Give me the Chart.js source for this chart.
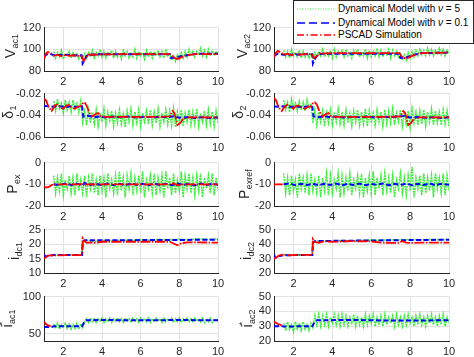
<!DOCTYPE html>
<html><head><meta charset="utf-8">
<script src="https://cdn.jsdelivr.net/npm/chart.js@4"></script>
<style>
body{margin:0;background:#fff;width:474px;height:357px;overflow:hidden;position:relative;font-family:"Liberation Sans",Arial,sans-serif}
canvas.c{position:absolute}
#legend{position:absolute;left:293px;top:0px;width:179px;height:42px;border:1px solid #262626;background:#fff;z-index:5;font-size:10px;color:#000}
#legend .it{position:absolute;left:0;height:12px;width:178px}
#legend svg{position:absolute;left:3px;top:0}
#legend span{position:absolute;left:44px;top:0;line-height:12px;white-space:nowrap}
</style>
</head><body>
<div id="legend">
 <div class="it" style="top:2px"><svg width="40" height="12"><line x1="0" y1="6" x2="38" y2="6" stroke="#28e628" stroke-width="1" stroke-dasharray="1,1.6"/></svg><span>Dynamical Model with <i>ν</i> = 5</span></div>
 <div class="it" style="top:15.5px"><svg width="40" height="12"><line x1="0" y1="6" x2="38" y2="6" stroke="#0000ff" stroke-width="1.6" stroke-dasharray="8,4"/></svg><span>Dynamical Model with <i>ν</i> = 0.1</span></div>
 <div class="it" style="top:28px"><svg width="40" height="12"><line x1="0" y1="6" x2="38" y2="6" stroke="#ff0000" stroke-width="1.4" stroke-dasharray="7,2.5,1.5,2.5"/></svg><span>PSCAD Simulation</span></div>
</div>
<script>
// ---------- data ----------
const xTicks = [2,4,6,8,10];
const xTickLabels = ['2','4','6','8','10'];

const tGreen = [1.5,1.6,1.7,1.8,1.9,2.0,2.1,2.2,2.3,2.4,2.5,2.6,2.7,2.8,2.9,3.0,3.1,3.2,3.3,3.4,3.5,3.6,3.7,3.8,3.9,4.0,4.1,4.2,4.3,4.4,4.5,4.6,4.7,4.8,4.9,5.0,5.1,5.2,5.3,5.4,5.5,5.6,5.7,5.8,5.9,6.0,6.1,6.2,6.3,6.4,6.5,6.6,6.7,6.8,6.9,7.0,7.1,7.2,7.3,7.4,7.5,7.6,7.7,7.8,7.9,8.0,8.1,8.2,8.3,8.4,8.5,8.6,8.7,8.8,8.9,9.0,9.1,9.2,9.3,9.4,9.5,9.6,9.7,9.8,9.9,10.0];

// V_ac1
const vac1Ticks = [80,100,120];
const vac1TickLabels = ['80','100','120'];
const vac1Green = [98,92,97,93,99,91,96,94,98,92, 97,93,96,91,95,90,96,92,97,93, 99,92,97,94,100,93,98,92,97,95, 99,92,98,93,97,91,99,94,98,92, 97,93,100,92,98,94,97,91,99,93, 98,92,97,94,99,93,98,92,100,94, 96,90,94,89,95,91,97,92,98,93, 100,94,99,93,98,95,101,94,99,93, 100,94,99,95,98,96];
const vac1Blue = [[1.0,93],[1.1,95],[1.3,96],[1.5,94.5],[2,95],[2.5,94.5],[2.95,94.5],[3.0,87],[3.1,90],[3.2,94],[3.4,95],[4,95.5],[5,95.5],[6,95.5],[7,95.5],[7.5,95.5],[7.55,92],[7.8,92.5],[8.2,94],[8.6,95],[9,96],[10,96]];
const vac1Red = [[1.0,91],[1.1,96],[1.2,97.5],[1.35,96.5],[1.5,94],[1.7,95],[1.9,93.5],[2.1,95],[2.3,94],[2.5,94.5],[2.7,94],[2.95,94],[3.05,89],[3.15,92],[3.3,95],[3.5,95],[4,95.3],[5,95.5],[6,95.5],[7,95.5],[7.5,95.5],[7.7,92.5],[7.9,91],[8.1,92.5],[8.4,94.5],[8.8,95.5],[10,95.5]];

// delta_1
const dTicks = [-0.06,-0.04,-0.02];
const dTickLabels = ['-0.06','-0.04','-0.02'];
const d1Green = [-0.027,-0.036,-0.025,-0.034,-0.029,-0.038,-0.026,-0.035,-0.028,-0.037, -0.026,-0.034,-0.029,-0.037,-0.027,-0.046,-0.036,-0.049,-0.035,-0.047, -0.037,-0.048,-0.035,-0.050,-0.038,-0.046,-0.034,-0.049,-0.037,-0.045, -0.036,-0.050,-0.038,-0.047,-0.035,-0.048,-0.039,-0.051,-0.036,-0.046, -0.034,-0.049,-0.037,-0.047,-0.035,-0.050,-0.038,-0.046,-0.036,-0.048, -0.035,-0.049,-0.037,-0.047,-0.034,-0.050,-0.038,-0.046,-0.035,-0.048, -0.036,-0.049,-0.034,-0.051,-0.037,-0.047,-0.035,-0.050,-0.038,-0.046, -0.035,-0.049,-0.037,-0.048,-0.034,-0.050,-0.038,-0.046,-0.036,-0.049, -0.035,-0.048,-0.037,-0.050,-0.036,-0.047];
const d1Blue = [[1.0,-0.0315],[1.3,-0.0318],[1.5,-0.0322],[1.8,-0.0316],[2.1,-0.0324],[2.4,-0.0317],[2.7,-0.0323],[2.97,-0.0318],[3.03,-0.0412],[3.3,-0.0405],[3.6,-0.0418],[3.9,-0.0410],[4.2,-0.0420],[4.6,-0.0412],[5.0,-0.0419],[5.4,-0.0411],[5.8,-0.0420],[6.2,-0.0413],[6.6,-0.0419],[7.0,-0.0412],[7.4,-0.0418],[7.7,-0.0408],[8.0,-0.0422],[8.4,-0.0417],[8.8,-0.0424],[9.2,-0.0418],[9.6,-0.0425],[10,-0.0420]];
const d1Red = [[1.0,-0.025],[1.1,-0.026],[1.25,-0.033],[1.4,-0.036],[1.55,-0.031],[1.7,-0.030],[1.85,-0.033],[2.0,-0.034],[2.15,-0.031],[2.3,-0.0305],[2.45,-0.033],[2.6,-0.034],[2.75,-0.032],[2.9,-0.0315],[3.0,-0.029],[3.1,-0.028],[3.2,-0.031],[3.35,-0.038],[3.5,-0.041],[3.65,-0.039],[3.8,-0.038],[3.95,-0.041],[4.2,-0.0415],[5,-0.0415],[6,-0.0415],[7,-0.0415],[7.5,-0.041],[7.65,-0.036],[7.75,-0.038],[7.9,-0.049],[8.05,-0.047],[8.2,-0.043],[8.5,-0.042],[10,-0.042]];

// P_ex
const pTicks = [-20,-10,0];
const pTickLabels = ['-20','-10','0'];
const pex1Green = [-6,-14,-7,-13,-5,-15,-8,-12,-6,-14, -7,-15,-5,-13,-8,-14,-6,-16,-7,-12, -5,-14,-8,-15,-6,-13,-7,-16,-5,-12, -8,-14,-6,-15,-4,-13,-7,-16,-6,-12, -5,-15,-7,-13,-6,-14,-4,-16,-8,-12, -6,-14,-5,-15,-7,-13,-6,-16,-4,-12, -7,-15,-5,-14,-8,-13,-4,-16,-6,-12, -5,-14,-7,-15,-6,-13,-5,-16,-7,-12, -6,-14,-5,-15,-7,-13];
const pex1Blue = [[1.5,-10],[1.8,-10.4],[2.1,-9.7],[2.4,-10.3],[2.7,-9.8],[3.0,-10.5],[3.1,-9.4],[3.4,-10.2],[3.7,-9.8],[4.0,-10.4],[4.3,-9.7],[4.6,-10.3],[4.9,-9.8],[5.2,-10.4],[5.5,-9.7],[5.8,-10.2],[6.1,-9.8],[6.4,-10.4],[6.7,-9.7],[7.0,-10.3],[7.3,-9.8],[7.6,-10.4],[7.9,-9.6],[8.2,-10.3],[8.5,-9.8],[8.8,-10.4],[9.1,-9.7],[9.4,-10.3],[9.7,-9.8],[10,-10.2]];
const pex1Red = [[1.0,-11],[1.1,-11.5],[1.25,-11.2],[1.4,-10.3],[1.5,-10],[2.9,-10],[3.0,-9.3],[3.1,-10.2],[3.3,-10],[7.6,-10],[7.7,-9.4],[7.9,-10.6],[8.1,-10],[10,-10]];

// i_dc1
const idc1Ticks = [10,15,20,25];
const idc1TickLabels = ['10','15','20','25'];
const idc1Green = [[1.5,16.3],[2,16.1],[2.5,16.3],[2.95,16.2],[3.05,21],[3.3,21.2],[3.6,20.9],[4,21.3],[4.5,21.1],[5,21.4],[5.5,21.2],[6,21.5],[6.5,21.3],[7,21.6],[7.5,21.4],[8,21.7],[8.5,21.5],[9,21.8],[9.5,21.6],[10,21.8]];
const idc1Blue = [[1.0,16.2],[1.1,15.6],[1.25,16],[1.5,16.2],[2.97,16.2],[3.0,20.8],[3.1,21.3],[4,21.3],[10,21.5]];
const idc1Red = [[1.0,15],[1.1,15.5],[1.2,16],[1.4,16.1],[2.97,16.2],[3.0,22],[3.1,21],[3.2,20.4],[3.4,20.6],[3.6,20.4],[4,20.8],[6,20.8],[7.5,20.8],[7.7,20.2],[7.9,19.6],[8.1,20.3],[8.4,20.6],[10,20.5]];

// i*_ac1
const iac1Ticks = [50,100];
const iac1TickLabels = ['50','100'];
const iac1Green = [63,57,64,56,62,58,64,57,63,56, 62,57,64,56,63,58,66,70,65,71, 66,71,65,70,67,71,65,70,66,71, 65,70,67,71,66,70,65,71,67,70, 65,71,66,70,65,71,67,70,66,71, 65,70,66,71,67,70,65,71,66,70, 67,71,65,70,66,71,65,70,67,71, 66,70,65,71,67,70,66,71,65,70, 66,71,65,70,67,70];
const iac1Blue = [[1.0,59],[1.4,59],[1.5,60],[2.97,60],[3.05,64],[3.2,68],[4,68.3],[6,68],[8,68.3],[10,68]];
const iac1Red = [[1.0,66],[1.1,63],[1.2,61],[1.35,60]];

// V_ac2
const vac2Green = [99,93,98,92,100,94,97,93,99,92, 98,93,97,92,96,91,97,93,98,94, 100,93,98,94,99,92,100,93,98,95, 99,93,100,94,98,92,99,95,100,93, 98,94,100,92,99,93,98,94,101,93, 99,93,98,95,100,92,99,94,98,93, 96,91,95,90,97,92,98,93,99,94, 100,95,99,94,101,95,100,94,99,96, 101,95,100,94,99,96];
const vac2Blue = [[1.0,94],[1.2,96],[1.5,95],[2.97,95.5],[3.0,87],[3.1,91],[3.25,95],[3.5,96],[7.45,96],[7.5,92],[7.8,92.5],[8.2,95],[8.6,96.5],[10,97]];
const vac2Red = [[1.0,93],[1.1,97],[1.2,98.5],[1.35,97],[1.5,95],[1.7,96],[1.9,94.5],[2.1,96],[2.3,95],[2.6,95.5],[2.95,95.5],[3.05,92],[3.2,93.5],[3.35,96.5],[3.5,96],[4,96.5],[7.45,96.5],[7.6,92.5],[7.8,91.5],[8,93],[8.3,95.5],[8.6,96.5],[10,97]];

// delta_2
const d2Green = [-0.026,-0.035,-0.028,-0.037,-0.025,-0.034,-0.029,-0.036,-0.027,-0.035, -0.028,-0.036,-0.026,-0.034,-0.029,-0.047,-0.035,-0.049,-0.037,-0.046, -0.036,-0.050,-0.038,-0.047,-0.035,-0.049,-0.037,-0.046,-0.034,-0.048, -0.037,-0.049,-0.035,-0.047,-0.038,-0.050,-0.036,-0.046,-0.035,-0.049, -0.037,-0.048,-0.034,-0.050,-0.036,-0.047,-0.038,-0.049,-0.035,-0.046, -0.037,-0.050,-0.035,-0.048,-0.036,-0.047,-0.034,-0.049,-0.038,-0.046, -0.035,-0.050,-0.037,-0.048,-0.036,-0.051,-0.034,-0.047,-0.037,-0.049, -0.036,-0.048,-0.035,-0.050,-0.037,-0.046,-0.034,-0.049,-0.036,-0.047, -0.037,-0.049,-0.035,-0.048,-0.036,-0.050];
const d2Blue = [[1.0,-0.0318],[1.3,-0.0322],[1.5,-0.0316],[1.8,-0.0323],[2.1,-0.0317],[2.4,-0.0324],[2.7,-0.0318],[2.97,-0.0322],[3.03,-0.0410],[3.3,-0.0417],[3.6,-0.0409],[3.9,-0.0419],[4.2,-0.0412],[4.6,-0.0420],[5.0,-0.0413],[5.4,-0.0419],[5.8,-0.0411],[6.2,-0.0420],[6.6,-0.0413],[7.0,-0.0418],[7.4,-0.0411],[7.7,-0.0406],[8.0,-0.0421],[8.4,-0.0416],[8.8,-0.0423],[9.2,-0.0417],[9.6,-0.0424],[10,-0.0419]];
const d2Red = [[1.0,-0.024],[1.1,-0.026],[1.25,-0.033],[1.4,-0.036],[1.55,-0.032],[1.7,-0.030],[1.85,-0.032],[2.0,-0.034],[2.15,-0.031],[2.3,-0.031],[2.45,-0.033],[2.6,-0.034],[2.75,-0.032],[2.9,-0.032],[3.0,-0.029],[3.1,-0.028],[3.2,-0.030],[3.35,-0.037],[3.5,-0.041],[3.65,-0.039],[3.8,-0.038],[3.95,-0.041],[4.2,-0.0415],[5,-0.0415],[6,-0.0415],[7,-0.0415],[7.5,-0.041],[7.65,-0.036],[7.75,-0.038],[7.9,-0.049],[8.05,-0.047],[8.2,-0.043],[8.5,-0.042],[10,-0.042]];

// P_exref
const pex2Green = [-5,-14,-7,-15,-6,-13,-8,-16,-5,-12, -7,-14,-6,-15,-5,-13,-8,-14,-6,-16, -7,-13,-5,-15,-6,-14,-8,-12,-5,-16, -6,-14,-7,-13,-5,-15,-8,-12,-6,-14, -5,-16,-7,-13,-6,-14,-4,-15,-7,-12, -6,-15,-5,-13,-7,-14,-6,-16,-8,-12, -5,-14,-7,-15,-6,-13,-2,-16,-7,-12, -6,-15,-5,-14,-7,-13,-6,-16,-5,-12, -7,-14,-5,-15,-6,-13];
const pex2Blue = [[1.5,-10],[1.8,-9.6],[2.1,-10.4],[2.4,-9.8],[2.7,-10.3],[3.0,-9.7],[3.3,-10.4],[3.6,-9.8],[3.9,-10.3],[4.2,-9.6],[4.5,-10.4],[4.8,-9.8],[5.1,-10.3],[5.4,-9.7],[5.7,-10.4],[6.0,-9.8],[6.3,-10.2],[6.6,-9.6],[6.9,-10.4],[7.2,-9.8],[7.5,-10.3],[7.8,-9.7],[8.1,-10.4],[8.4,-9.8],[8.7,-10.3],[9.0,-9.6],[9.3,-10.4],[9.6,-9.8],[10,-10.2]];
const pex2Red = [[1.0,-10],[1.45,-10]];

// i_dc2
const i2Ticks = [20,30,40,50];
const i2TickLabels = ['20','30','40','50'];
const idc2Green = [[1.5,32.7],[2,32.3],[2.5,32.6],[2.95,32.4],[3.05,41.8],[3.5,42.3],[4,42],[4.5,42.5],[5,42.2],[5.5,42.6],[6,42.8],[6.5,42.6],[7,43.1],[7.5,42.8],[8,43.2],[8.5,42.9],[9,43.2],[9.5,42.9],[10,43.2]];
const idc2Blue = [[1.0,33],[1.05,30.5],[1.2,31.5],[1.5,32.3],[2.97,32.5],[3.0,41],[3.1,42],[4,42.2],[6,42.5],[10,43]];
const idc2Red = [[1.0,30],[1.1,30.5],[1.25,32],[1.5,32.8],[1.8,32.2],[2.2,32.6],[2.97,32.5],[3.0,43.5],[3.1,41.5],[3.3,40.8],[3.6,42],[4,41.5],[5,42],[6,41.8],[6.5,41],[7,40.8],[7.4,40.8],[7.6,42],[7.8,41],[8,40.8],[8.5,41],[10,41]];

// i*_ac2
const iac2Green = [32,27,33,28,31,26,33,28,32,27, 33,28,31,27,32,29,37,31,38,30, 37,31,38,30,36,32,38,31,37,30, 38,31,37,30,36,32,38,30,37,31, 36,30,38,31,37,32,38,30,36,31, 37,30,38,31,36,32,37,30,38,31, 36,30,37,31,38,32,36,30,37,31, 38,31,36,30,37,32,38,31,36,30, 37,31,38,30,36,32];
const iac2Blue = [[1.0,30],[1.45,30],[1.5,29.8],[2.97,30],[3.05,32],[3.2,34],[5,34.2],[7,33.8],[10,34]];
const iac2Red = [[1.0,33],[1.2,31.5],[1.4,30.5]];

// ---------- drawing ----------
const FONT = '"Liberation Sans", Arial, Helvetica, sans-serif';
const yTitlePlugin = {
  id: 'ytitle',
  afterDraw(chart, args, o) {
    const ctx = chart.ctx, a = chart.chartArea;
    const cx = o.x, cy = (a.top + a.bottom) / 2 + (o.dy || 0);
    ctx.save();
    ctx.translate(cx, cy);
    ctx.rotate(-Math.PI / 2);
    ctx.fillStyle = '#262626';
    ctx.textBaseline = 'middle';
    const mf = '14px ' + FONT, sf = '9px ' + FONT;
    ctx.font = mf; const wm = ctx.measureText(o.main).width;
    ctx.font = sf; const ws = ctx.measureText(o.sub).width;
    const x0 = -(wm + ws) / 2;
    ctx.font = mf; ctx.fillText(o.main, x0, 0);
    ctx.font = sf; ctx.fillText(o.sub, x0 + wm + 0.5, 4.5);
    if (o.sup) ctx.fillText(o.sup, x0 + wm - 1, -5);
    ctx.restore();
  }
};

const toPts = arr => arr.map(p => ({x: p[0], y: p[1]}));
const greenPts = arr => arr.map((v, i) => ({x: tGreen[i], y: v}));

const panels = [
  {col:0,row:0, green:greenPts(vac1Green), blue:vac1Blue, red:vac1Red, min:80,max:120, ticks:vac1Ticks, labels:vac1TickLabels, t:{main:'V',sub:'ac1',x:11.5,dy:-3}},
  {col:0,row:1, green:greenPts(d1Green), blue:d1Blue, red:d1Red, min:-0.06,max:-0.02, ticks:dTicks, labels:dTickLabels, t:{main:'δ',sub:'1',x:9.5,dy:-3}},
  {col:0,row:2, green:greenPts(pex1Green), blue:pex1Blue, red:pex1Red, min:-20,max:0, ticks:pTicks, labels:pTickLabels, t:{main:'P',sub:'ex',x:13.5,dy:0}},
  {col:0,row:3, green:toPts(idc1Green), blue:idc1Blue, red:idc1Red, min:10,max:25, ticks:idc1Ticks, labels:idc1TickLabels, t:{main:'i',sub:'dc1',x:15,dy:0}},
  {col:0,row:4, green:greenPts(iac1Green), blue:iac1Blue, red:iac1Red, min:40,max:100, ticks:iac1Ticks, labels:iac1TickLabels, t:{main:'i',sub:'ac1',sup:'*',x:8,dy:0}},
  {col:1,row:0, green:greenPts(vac2Green), blue:vac2Blue, red:vac2Red, min:80,max:120, ticks:vac1Ticks, labels:vac1TickLabels, t:{main:'V',sub:'ac2',x:243,dy:-3}},
  {col:1,row:1, green:greenPts(d2Green), blue:d2Blue, red:d2Red, min:-0.06,max:-0.02, ticks:dTicks, labels:dTickLabels, t:{main:'δ',sub:'2',x:239.5,dy:-3}},
  {col:1,row:2, green:greenPts(pex2Green), blue:pex2Blue, red:pex2Red, min:-20,max:0, ticks:pTicks, labels:pTickLabels, t:{main:'P',sub:'exref',x:245,dy:0}},
  {col:1,row:3, green:toPts(idc2Green), blue:idc2Blue, red:idc2Red, min:20,max:50, ticks:i2Ticks, labels:i2TickLabels, t:{main:'i',sub:'dc2',x:247.5,dy:0}},
  {col:1,row:4, green:greenPts(iac2Green), blue:iac2Blue, red:iac2Red, min:20,max:50, ticks:i2Ticks, labels:i2TickLabels, t:{main:'i',sub:'ac2',sup:'*',x:248,dy:0}}
];

const colLeft = [44, 274];
const colWidth = [174, 175];
const rowTop = [26, 92, 161, 228, 295];
const rowHeight = [45, 45, 45, 45, 46];
const YW = 44, PADT = 8, PADR = 12, XH = 20;

panels.forEach(p => {
  const cv = document.createElement('canvas');
  cv.className = 'c';
  const left = colLeft[p.col] - YW, top = rowTop[p.row] - PADT;
  const w = YW + colWidth[p.col] + PADR, h = PADT + rowHeight[p.row] + XH;
  cv.width = w; cv.height = h;
  cv.style.left = left + 'px'; cv.style.top = top + 'px';
  cv.style.width = w + 'px'; cv.style.height = h + 'px';
  document.body.appendChild(cv);
  const title = Object.assign({}, p.t, {x: p.t.x - left});
  new Chart(cv, {
    type: 'line',
    data: {datasets: [
      {data: p.green, borderColor: '#3cee3c', borderWidth: 1.5, borderDash: [2, 0.8], pointRadius: 0, tension: 0, order: 3},
      {data: toPts(p.blue), borderColor: '#0000ff', borderWidth: 2, borderDash: [5, 2.5], pointRadius: 0, tension: 0, order: 2},
      {data: toPts(p.red), borderColor: '#ff0000', borderWidth: 1.8, borderDash: [10, 1.5, 1.5, 1.5], pointRadius: 0, tension: 0, order: 1}
    ]},
    options: {
      responsive: false, animation: false, devicePixelRatio: 1,
      layout: {padding: {top: PADT, right: PADR, left: 0, bottom: 0}},
      plugins: {legend: {display: false}, tooltip: {enabled: false}, ytitle: title},
      scales: {
        x: {type: 'linear', min: 1, max: 10,
          afterBuildTicks: s => { s.ticks = xTicks.map(v => ({value: v})); },
          afterFit: s => { s.height = XH; },
          ticks: {callback: (v, i) => xTickLabels[i], font: {size: 11, family: FONT}, color: '#262626', padding: 4, maxRotation: 0, autoSkip: false},
          grid: {color: '#e2e2e2', drawTicks: false},
          border: {color: '#262626', width: 1}},
        y: {type: 'linear', min: p.min, max: p.max,
          afterBuildTicks: s => { s.ticks = p.ticks.map(v => ({value: v})); },
          afterFit: s => { s.width = YW; },
          ticks: {callback: (v, i) => p.labels[i], font: {size: 11, family: FONT}, color: '#262626', padding: 3, autoSkip: false},
          grid: {color: '#e2e2e2', drawTicks: false},
          border: {color: '#262626', width: 1}}
      }
    },
    plugins: [yTitlePlugin]
  });
});
</script>
</body></html>
